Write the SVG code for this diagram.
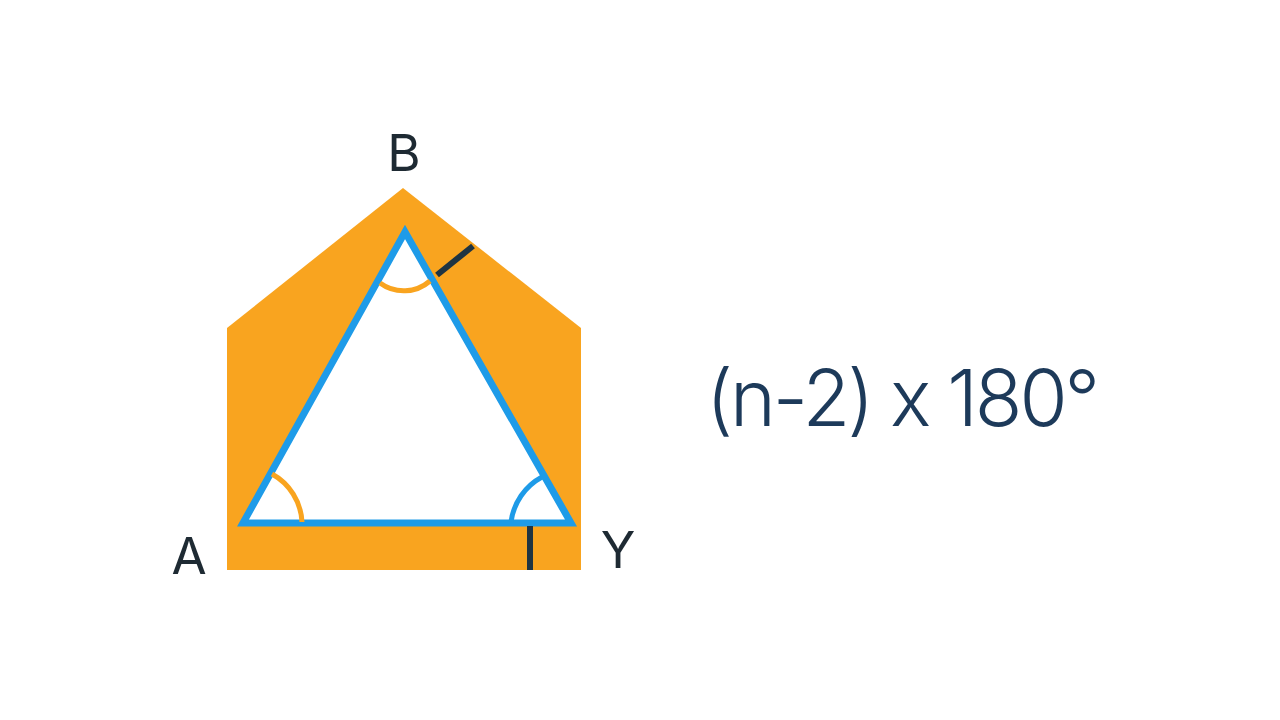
<svg xmlns="http://www.w3.org/2000/svg" width="1280" height="720" viewBox="0 0 1280 720">
<style>
.lbl{font-family:Inter,"Noto Sans","Liberation Sans",sans-serif;fill:#1e2a33;font-size:51px;text-anchor:middle}
.tick{stroke:#1f3442;stroke-width:6;fill:none}
.side{stroke:#1e9be8;stroke-width:7;fill:#ffffff;stroke-linejoin:miter}
.arcO{stroke:#f9a41f;stroke-width:5;fill:none}
.arcB{stroke:#1e9be8;stroke-width:5;fill:none}
</style>
<rect width="1280" height="720" fill="#ffffff"/>
<g id="pentagon">
<polygon points="227,328 403,188 581,328 581,570 227,570" fill="#f9a41f"/>
</g>
<g id="triangle">
<polygon class="side" points="405,232 243,523 571,523"/>
<path class="arcO" d="M380,283 A40,40 0 0 0 430,281"/>
<path class="arcO" d="M272,474 A58,58 0 0 1 302,522"/>
<path class="arcB" d="M511,522 A60,60 0 0 1 542,477"/>
</g>
<g id="connectors">
<line class="tick" x1="437" y1="275" x2="473" y2="246"/>
<line class="tick" x1="530" y1="526" x2="530" y2="570"/>
</g>
<g id="label-B"><text class="lbl" x="404" y="171">B</text></g>
<g id="label-A"><text class="lbl" x="189" y="574">A</text></g>
<g id="label-Y"><text class="lbl" x="618" y="568">Y</text></g>
<g id="formula">
<text x="706" y="426" font-family="Inter,'Noto Sans','Liberation Sans',sans-serif" font-size="78" font-weight="300" fill="#1d3a5a" textLength="394" lengthAdjust="spacing">(n-2) x 180°</text>
</g>
</svg>
